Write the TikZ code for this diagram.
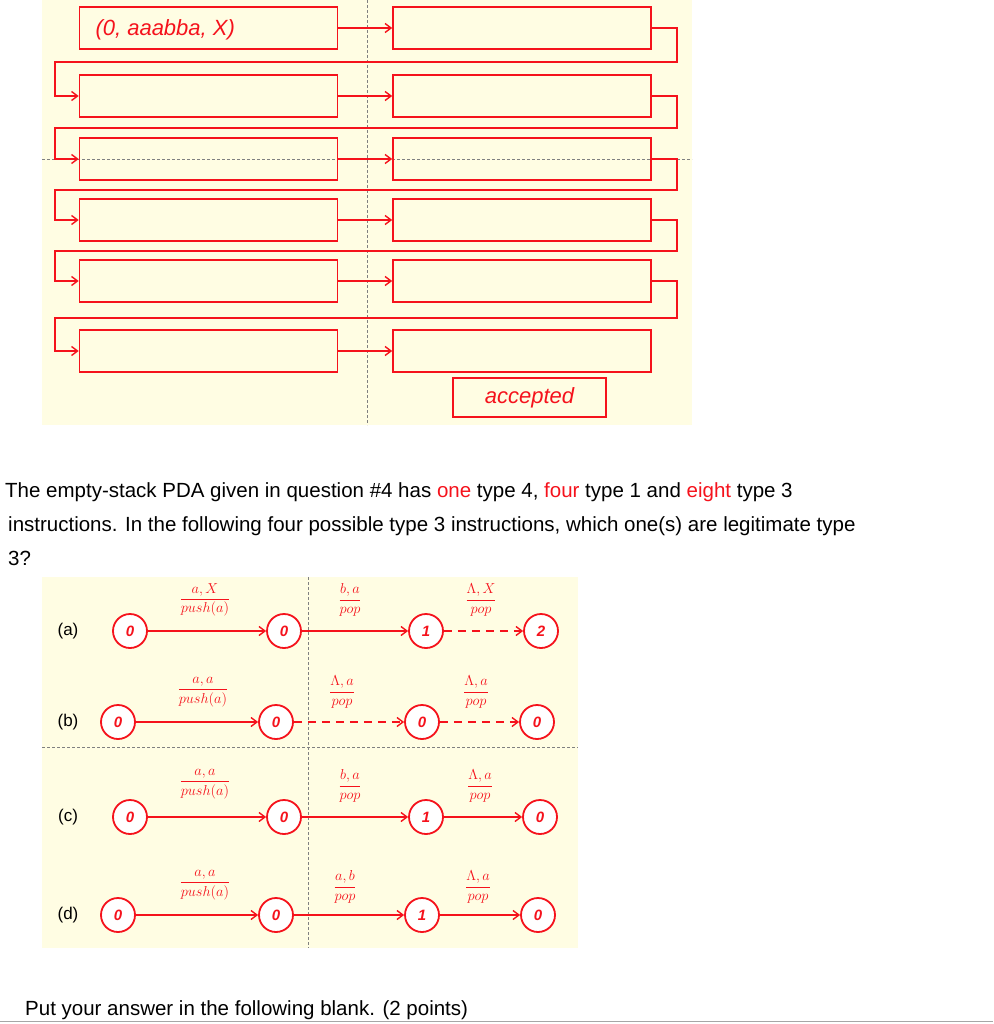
\documentclass[tikz,border=0pt]{standalone}
\usepackage{amsmath}
\usepackage{fontspec}
\setmainfont{Liberation Sans}
\usetikzlibrary{arrows.meta}
\definecolor{rd}{HTML}{F5121C}
\definecolor{cream}{HTML}{FFFDE3}
\tikzset{
 box/.style={draw=rd,line width=1.6pt,minimum width=#1,minimum height=40pt,inner sep=0pt},
 box/.default=258pt,
 conn/.style={draw=rd,line width=1.4pt,-{Straight Barb[length=6pt,width=9pt]}},
 guide/.style={draw=gray,dashed,line width=0.5pt,dash pattern=on 3pt off 2pt},
 st/.style={circle,draw=rd,line width=1.8pt,minimum size=34pt,inner sep=0pt,font=\fontsize{15}{15}\selectfont\bfseries\itshape,text=rd,fill=white},
 lab/.style={text=rd,font=\fontsize{15}{15}\selectfont},
 rl/.style={font=\fontsize{17}{17}\selectfont},
 txt/.style={anchor=base west,font=\fontsize{20.5}{20}\selectfont,inner sep=0pt}
}
\begin{document}
\begin{tikzpicture}[x=1pt,y=-1pt]
\useasboundingbox (0,0) rectangle (993,1024);
\fill[cream] (42,0) rectangle (692,425);
\draw[guide] (367,0) -- (367,425);
\draw[guide] (42,159) -- (692,159);
\foreach \i/\y in {1/28,2/96,3/159,4/220,5/281,6/351}{
  \node[box,minimum height=42pt] (L\i) at (208.5,\y) {};
  \node[box,minimum height=42pt] (R\i) at (522,\y) {};
  \draw[conn] (L\i.east) -- (R\i.west);
}
\node[anchor=west,text=rd,font=\fontsize{22}{22}\selectfont\itshape] at (92,30) {(0, aaabba, X)};
\foreach \i/\j/\m in {1/2/62,2/3/128,3/4/190,4/5/251,5/6/318}{
  \draw[conn] (R\i.east) -| (677,\m) -- (55,\m) |- (L\j.west);
}
\node[box=153pt,minimum height=39pt,text=rd,font=\fontsize{22}{22}\selectfont\itshape] (acc) at (529.5,397.5) {accepted};
\node[txt] at (5,497) {The empty-stack PDA given in question \#4 has \textcolor{rd}{one} type 4, \textcolor{rd}{four} type 1 and \textcolor{rd}{eight} type 3};
\node[txt] at (8,531) {instructions. In the following four possible type 3 instructions, which one(s) are legitimate type};
\node[txt] at (8,565) {3?};
\fill[cream] (42,577) rectangle (578,948);
\draw[guide] (308,577) -- (308,948);
\draw[guide] (42,747) -- (578,747);
\newcommand\row[9]{%
 \node[rl] at (#2,#3) {(#1)};
 \node[st] (#1a) at (#4,#3) {0};
 \node[st] (#1b) at (#5,#3) {0};
 \node[st] (#1c) at (#6,#3) {#8};
 \node[st] (#1d) at (#7,#3) {#9};
}
\row{a}{68}{631}{130}{284}{426}{541}{1}{2}
\row{b}{68}{722}{118}{276}{422}{537}{0}{0}
\row{c}{68}{817}{130}{284}{426}{540}{1}{0}
\row{d}{68}{915}{118}{276}{422}{538}{1}{0}
\draw[conn] (aa) -- (ab); \draw[conn] (ab) -- (ac); \draw[conn,dashed,dash pattern=on 8pt off 6pt] (ac) -- (ad);
\draw[conn] (ba) -- (bb); \draw[conn,dashed,dash pattern=on 8pt off 6pt] (bb) -- (bc); \draw[conn,dashed,dash pattern=on 8pt off 6pt] (bc) -- (bd);
\draw[conn] (ca) -- (cb); \draw[conn] (cb) -- (cc); \draw[conn] (cc) -- (cd);
\draw[conn] (da) -- (db); \draw[conn] (db) -- (dc); \draw[conn] (dc) -- (dd);
\newcommand\fr[4]{\node[lab] at (#1,#2) {$\dfrac{#3}{#4}$};}
\fr{205}{600}{a,X}{push(a)} \fr{350}{600}{b,a}{pop} \fr{481}{600}{\Lambda,X}{pop}
\fr{203}{692}{a,a}{push(a)} \fr{342}{692}{\Lambda,a}{pop} \fr{476}{692}{\Lambda,a}{pop}
\fr{205}{784}{a,a}{push(a)} \fr{350}{786}{b,a}{pop} \fr{480}{786}{\Lambda,a}{pop}
\fr{205}{885}{a,a}{push(a)} \fr{345}{887}{a,b}{pop} \fr{478}{887}{\Lambda,a}{pop}
\node[txt] at (25,1015) {Put your answer in the following blank. (2 points)};
\draw[gray!70,line width=1pt] (0,1021) -- (993,1021);
\end{tikzpicture}
\end{document}
